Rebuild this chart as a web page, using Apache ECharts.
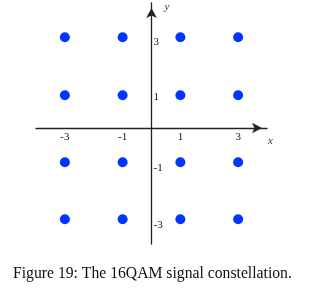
<!DOCTYPE html>
<html><head><meta charset="utf-8">
<script src="https://cdn.jsdelivr.net/npm/echarts@6/dist/echarts.min.js"></script>
<style>html,body{margin:0;padding:0;background:#fff}#c{width:331px;height:291px}</style>
</head><body><div id="c"></div>
<script>
// In-phase (I) levels and quadrature (Q) levels of the 16QAM constellation
const iLevels = [-3, -1, 1, 3];
const qUpperLevels = [3, 1];
const qLowerLevels = [-1, -3];
const xTickLabels = [-3, -1, 1, 3];
const yTickUpper = [3, 1];
const yTickLower = [-1, -3];
const xName = 'x';
const yName = 'y';
const caption = 'Figure 19: The 16QAM signal constellation.';

const upperPoints = [];
iLevels.forEach(i => qUpperLevels.forEach(q => upperPoints.push([i, q])));
const lowerPoints = [];
iLevels.forEach(i => qLowerLevels.forEach(q => lowerPoints.push([i, q])));

const serif = '"Liberation Serif", "DejaVu Serif", serif';
const axisColor = '#222';
const dotColor = '#0036ff';
const lbl = {fontFamily: serif, fontSize: 11, color: '#111'};

const chart = echarts.init(document.getElementById('c'), null, {renderer: 'canvas'});
const hiddenY = (min, max, ticks) => ({
  type: 'value', min: min, max: max, position: 'left',
  offset: -115.5,
  axisLine: {show: false, onZero: false},
  axisTick: {show: false}, splitLine: {show: false},
  axisLabel: {
    show: true, inside: true, margin: 2, customValues: ticks,
    formatter: v => (v === 1 ? '{a|' + v + '}' : v === 3 ? '{b|' + v + '}' : '{c|' + v + '}'),
    rich: {
      a: Object.assign({padding: [4, 0, 0, 0]}, lbl),
      b: Object.assign({padding: [10, 0, 0, 0]}, lbl),
      c: Object.assign({padding: [12, 0, 0, 0]}, lbl)
    }
  }
});
const hiddenX = (offset, extra) => Object.assign({
  type: 'value', min: -4, max: 4, position: 'bottom', offset: offset,
  axisLine: {show: false, onZero: false},
  axisTick: {show: false}, splitLine: {show: false}
}, extra);

chart.setOption({
  animation: false,
  backgroundColor: '#fff',
  title: {
    text: caption, left: 13, top: 266, padding: 0,
    textStyle: {fontFamily: serif, fontSize: 15.7, fontWeight: 'normal', color: '#111'}
  },
  grid: {left: 36, right: 64, top: 3, bottom: 47, containLabel: false, outerBoundsMode: 'none'},
  xAxis: [
    {
      type: 'value', min: -4, max: 4,
      axisLine: {show: true, onZero: true, onZeroAxisIndex: 0,
        symbol: ['none', 'arrow'], symbolSize: [8, 10], symbolOffset: [0, -5],
        lineStyle: {color: axisColor, width: 1.3}},
      axisTick: {show: false}, splitLine: {show: false}, axisLabel: {show: false}
    },
    hiddenX(-116, {axisLabel: Object.assign({customValues: xTickLabels, margin: 4}, lbl)}),
    hiddenX(-103, {
      axisLabel: {show: false},
      name: xName, nameLocation: 'end', nameGap: 1,
      nameTextStyle: {fontFamily: serif, fontStyle: 'italic', fontSize: 11, color: '#334',
        align: 'left', verticalAlign: 'middle'}
    })
  ],
  yAxis: [
    {
      type: 'value', min: -4, max: 4.31,
      name: yName, nameLocation: 'end', nameGap: -4,
      nameTextStyle: {fontFamily: serif, fontStyle: 'italic', fontSize: 11, color: '#334',
        align: 'center', verticalAlign: 'middle', padding: [0, 0, 0, 31]},
      axisLine: {show: true, onZero: true,
        symbol: ['none', 'arrow'], symbolSize: [8, 10], symbolOffset: [0, -5],
        lineStyle: {color: axisColor, width: 1.3}},
      axisTick: {show: false}, splitLine: {show: false}, axisLabel: {show: false}
    },
    hiddenY(-4.13, 4.18, yTickUpper),
    hiddenY(-3.87, 4.59, yTickLower)
  ],
  series: [
    {type: 'scatter', yAxisIndex: 1, data: upperPoints, symbolSize: 10,
      itemStyle: {color: dotColor, opacity: 1}, silent: true},
    {type: 'scatter', yAxisIndex: 2, data: lowerPoints, symbolSize: 10,
      itemStyle: {color: dotColor, opacity: 1}, silent: true}
  ]
});
</script>
</body></html>
